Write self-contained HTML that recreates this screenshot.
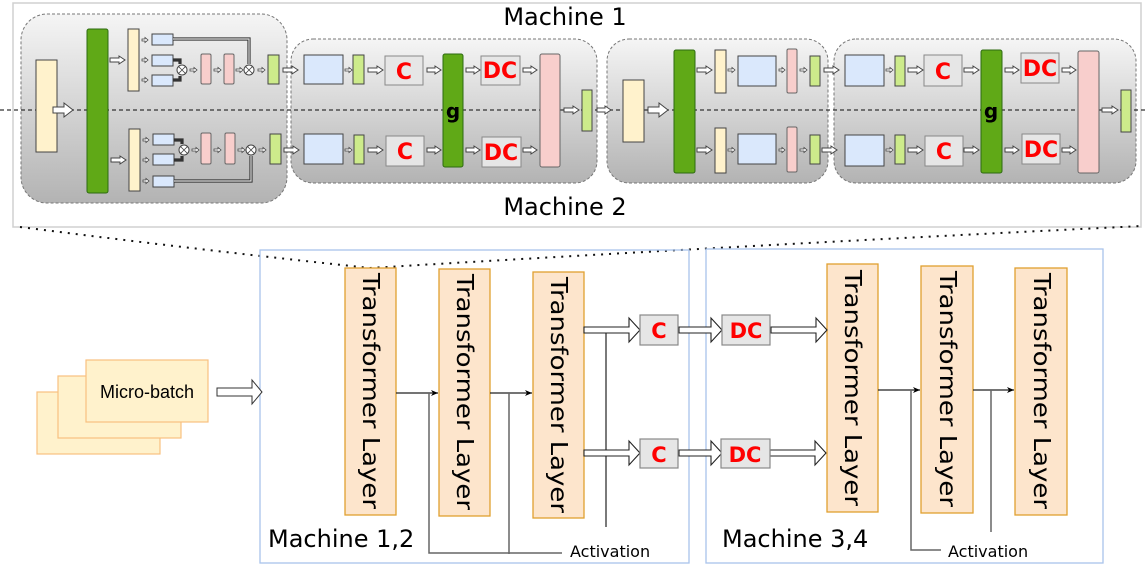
<!DOCTYPE html>
<html><head><meta charset="utf-8"><style>
html,body{margin:0;padding:0;background:#fff;}
svg{display:block;font-family:"DejaVu Sans","Liberation Sans",sans-serif;}
</style></head><body>
<svg width="1145" height="565" viewBox="0 0 1145 565" xmlns="http://www.w3.org/2000/svg">
<defs>
<linearGradient id="g" x1="0" y1="0" x2="0" y2="1"><stop offset="0" stop-color="#f5f5f5"/><stop offset="1" stop-color="#b3b3b3"/></linearGradient>
<marker id="ah" markerWidth="8" markerHeight="8" refX="7" refY="4" orient="auto" markerUnits="userSpaceOnUse"><path d="M0,1 L7,4 L0,7 L2,4 Z" fill="#000"/></marker>
</defs>
<rect x="13" y="3" width="1128" height="224" fill="#fff" stroke="#d0d0d0" stroke-width="1.5"/>
<text x="565" y="25" font-size="24" text-anchor="middle" fill="#000">Machine 1</text>
<text x="565" y="215" font-size="24" text-anchor="middle" fill="#000">Machine 2</text>

<g stroke="#777" stroke-dasharray="3 2" fill="url(#g)">
<rect x="21" y="14" width="266" height="189" rx="26"/>
<rect x="291" y="39" width="306" height="144" rx="22"/>
<rect x="607" y="39" width="221" height="144" rx="22"/>
<rect x="834" y="39" width="302" height="144" rx="22"/>
</g>
<line x1="0" y1="110" x2="1145" y2="110" stroke="#333" stroke-dasharray="4 3" stroke-width="1.2"/>

<g stroke="#444" stroke-width="1">
<rect x="36" y="60" width="21" height="92" fill="#fff2cc"/>
<rect x="87" y="29" width="21" height="164" rx="2" fill="#60a917" stroke="#2d6a10"/>
<rect x="128" y="29" width="11" height="62" fill="#fff2cc"/>
<rect x="129" y="129" width="11" height="62" fill="#fff2cc"/>
<g fill="#dae8fc">
<rect x="152" y="34" width="21" height="11"/><rect x="152" y="55" width="21" height="11"/><rect x="152" y="75" width="21" height="11"/>
<rect x="153" y="134" width="21" height="11"/><rect x="153" y="154" width="21" height="11"/><rect x="153" y="176" width="21" height="11"/>
</g>
<g fill="#f8cecc" stroke="#666">
<rect x="201" y="54" width="10" height="30" rx="1.5"/><rect x="224" y="54" width="10" height="30" rx="1.5"/>
<rect x="201" y="133" width="10" height="31" rx="1.5"/><rect x="225" y="133" width="10" height="31" rx="1.5"/>
</g>
<g fill="#cdeb8b">
<rect x="268" y="55" width="11" height="29"/><rect x="270" y="134" width="11" height="30"/>
</g>
<g fill="#fff">
<circle cx="182" cy="70" r="5"/><circle cx="249" cy="70" r="5"/>
<circle cx="184" cy="150" r="5"/><circle cx="251" cy="150" r="5"/>
</g>
<g stroke-width="0.8">
<path d="M178.5,66.5 L185.5,73.5 M185.5,66.5 L178.5,73.5 M245.5,66.5 L252.5,73.5 M252.5,66.5 L245.5,73.5 M180.5,146.5 L187.5,153.5 M187.5,146.5 L180.5,153.5 M247.5,146.5 L254.5,153.5 M254.5,146.5 L247.5,153.5"/>
</g>
<g fill="none" stroke="#333" stroke-width="3.2"><path d="M173,39 H249 V64"/><path d="M174,181 H251 V156"/><path d="M173,60 H180 V64"/><path d="M173,80 H180 V76"/><path d="M174,140 H182 V144"/><path d="M174,160 H182 V156"/></g>
<g fill="none" stroke="#ddd" stroke-width="1.2"><path d="M173,39 H249 V64"/><path d="M174,181 H251 V156"/></g>

<g fill="#dae8fc"><rect x="304" y="55" width="39" height="29"/><rect x="304" y="134" width="39" height="30"/>
<rect x="738" y="56" width="38" height="30"/><rect x="738" y="134" width="38" height="30"/>
<rect x="845" y="55" width="39" height="31"/><rect x="845" y="135" width="39" height="31"/></g>
<g fill="#cdeb8b"><rect x="353" y="55" width="11" height="29"/><rect x="354" y="135" width="10" height="29"/>
<rect x="582" y="90" width="10" height="41"/><rect x="810" y="56" width="10" height="30"/><rect x="810" y="135" width="10" height="29"/>
<rect x="895" y="56" width="10" height="30"/><rect x="895" y="135" width="10" height="29"/><rect x="1121" y="90" width="10" height="42"/></g>
<g fill="#e6e6e6" stroke="#888"><rect x="385" y="56" width="38" height="29"/><rect x="386" y="136" width="38" height="30"/>
<rect x="481" y="56" width="39" height="29"/><rect x="482" y="137" width="39" height="30"/>
<rect x="924" y="55" width="38" height="31"/><rect x="925" y="136" width="38" height="30"/>
<rect x="1021" y="53" width="38" height="30"/><rect x="1022" y="134" width="38" height="30"/></g>
<g fill="#60a917" stroke="#2d6a10"><rect x="443" y="54" width="20" height="113" rx="2"/><rect x="674" y="50" width="21" height="123" rx="2"/><rect x="981" y="50" width="21" height="123" rx="2"/></g>
<g fill="#f8cecc" stroke="#666"><rect x="540" y="54" width="20" height="113" rx="2"/><rect x="787" y="49" width="10" height="44" rx="1.5"/><rect x="787" y="127" width="10" height="45" rx="1.5"/><rect x="1078" y="51" width="21" height="122" rx="2"/></g>
<g fill="#fff2cc"><rect x="623" y="80" width="21" height="62"/><rect x="715" y="50" width="11" height="43"/><rect x="715" y="128" width="11" height="45"/></g>

<g fill="#fff" stroke="#444" stroke-width="1">
<polygon points="53,107 64,107 64,103 73,110 64,117 64,113 53,113"/>
<polygon points="648,107 659,107 659,103 668,110 659,117 659,113 648,113"/>
<polygon points="110,58 119,58 119,56 125,60 119,64 119,62 110,62"/>
<polygon points="111,158 120,158 120,156 126,160 120,164 120,162 111,162"/>
<polygon points="283,68 292,68 292,66 298,70 292,74 292,72 283,72"/>
<polygon points="284,148 293,148 293,146 299,150 293,154 293,152 284,152"/>
<polygon points="368,68 377,68 377,66 383,70 377,74 377,72 368,72"/>
<polygon points="368,148 377,148 377,146 383,150 377,154 377,152 368,152"/>
<polygon points="427,68 435,68 435,66 441,70 435,74 435,72 427,72"/>
<polygon points="427,148 435,148 435,146 441,150 435,154 435,152 427,152"/>
<polygon points="466,68 474,68 474,66 480,70 474,74 474,72 466,72"/>
<polygon points="466,148 474,148 474,146 480,150 474,154 474,152 466,152"/>
<polygon points="523,68 531,68 531,66 537,70 531,74 531,72 523,72"/>
<polygon points="523,148 531,148 531,146 537,150 531,154 531,152 523,152"/>
<polygon points="564,108 573,108 573,106 579,110 573,114 573,112 564,112"/>
<polygon points="597,108 605,108 605,106 611,110 605,114 605,112 597,112"/>
<polygon points="697,68 706,68 706,66 712,70 706,74 706,72 697,72"/>
<polygon points="697,148 706,148 706,146 712,150 706,154 706,152 697,152"/>
<polygon points="824,68 833,68 833,66 839,70 833,74 833,72 824,72"/>
<polygon points="822,148 831,148 831,146 837,150 831,154 831,152 822,152"/>
<polygon points="908,68 917,68 917,66 923,70 917,74 917,72 908,72"/>
<polygon points="908,148 917,148 917,146 923,150 917,154 917,152 908,152"/>
<polygon points="964,68 973,68 973,66 979,70 973,74 973,72 964,72"/>
<polygon points="964,148 973,148 973,146 979,150 973,154 973,152 964,152"/>
<polygon points="1005,68 1013,68 1013,66 1019,70 1013,74 1013,72 1005,72"/>
<polygon points="1005,148 1013,148 1013,146 1019,150 1013,154 1013,152 1005,152"/>
<polygon points="1062,68 1070,68 1070,66 1076,70 1070,74 1070,72 1062,72"/>
<polygon points="1062,148 1070,148 1070,146 1076,150 1070,154 1070,152 1062,152"/>
<polygon points="1102,108 1112,108 1112,106 1118,110 1112,114 1112,112 1102,112"/>
</g>
<g fill="#fff" stroke="#444" stroke-width="0.8">
<polygon points="142,39 145,39 145,37.5 148,40 145,42.5 145,41 142,41"/>
<polygon points="142,59 145,59 145,57.5 148,60 145,62.5 145,61 142,61"/>
<polygon points="142,79 145,79 145,77.5 148,80 145,82.5 145,81 142,81"/>
<polygon points="143,139 146,139 146,137.5 149,140 146,142.5 146,141 143,141"/>
<polygon points="143,159 146,159 146,157.5 149,160 146,162.5 146,161 143,161"/>
<polygon points="143,180 146,180 146,178.5 149,181 146,183.5 146,182 143,182"/>
<polygon points="190,69 194,69 194,67.5 197,70 194,72.5 194,71 190,71"/>
<polygon points="214,69 218,69 218,67.5 221,70 218,72.5 218,71 214,71"/>
<polygon points="236,69 240,69 240,67.5 243,70 240,72.5 240,71 236,71"/>
<polygon points="258,69 262,69 262,67.5 265,70 262,72.5 262,71 258,71"/>
<polygon points="192,149 196,149 196,147.5 199,150 196,152.5 196,151 192,151"/>
<polygon points="214,149 218,149 218,147.5 221,150 218,152.5 218,151 214,151"/>
<polygon points="238,149 242,149 242,147.5 245,150 242,152.5 242,151 238,151"/>
<polygon points="259,149 263,149 263,147.5 266,150 263,152.5 263,151 259,151"/>
<polygon points="345,69 349,69 349,67.5 352,70 349,72.5 349,71 345,71"/>
<polygon points="345,149 349,149 349,147.5 352,150 349,152.5 349,151 345,151"/>
<polygon points="728,69 732,69 732,67.5 735,70 732,72.5 732,71 728,71"/>
<polygon points="728,149 732,149 732,147.5 735,150 732,152.5 732,151 728,151"/>
<polygon points="779,69 782,69 782,67.5 785,70 782,72.5 782,71 779,71"/>
<polygon points="779,149 782,149 782,147.5 785,150 782,152.5 782,151 779,151"/>
<polygon points="800,69 804,69 804,67.5 807,70 804,72.5 804,71 800,71"/>
<polygon points="800,149 804,149 804,147.5 807,150 804,152.5 804,151 800,151"/>
<polygon points="886,69 890,69 890,67.5 893,70 890,72.5 890,71 886,71"/>
<polygon points="886,149 890,149 890,147.5 893,150 890,152.5 890,151 886,151"/>
</g>
</g>
<g fill="#f00" font-weight="bold" font-size="22" text-anchor="middle">
<text x="404" y="79">C</text><text x="405" y="159">C</text>
<text x="500" y="78">DC</text><text x="501" y="160">DC</text>
<text x="943" y="79">C</text><text x="944" y="159">C</text>
<text x="1040" y="76">DC</text><text x="1041" y="157">DC</text>
</g>
<g font-weight="bold" font-size="20" text-anchor="middle" fill="#000">
<text x="453" y="118">g</text><text x="991" y="118">g</text>
</g>

<path d="M20,227 Q200,250 370,268 Q750,245 1142,226" fill="none" stroke="#111" stroke-width="2" stroke-dasharray="2 6"/>

<rect x="260" y="250" width="429" height="313" fill="none" stroke="#a9c4eb" stroke-width="1.3"/>
<rect x="706" y="249" width="397" height="314" fill="none" stroke="#a9c4eb" stroke-width="1.3"/>

<g fill="#fff2cc" stroke="#f8c080" stroke-width="1.2">
<rect x="37" y="392" width="123" height="62"/>
<rect x="58" y="376" width="123" height="62"/>
<rect x="86" y="360" width="122" height="62"/>
</g>
<text x="147" y="398" font-size="18" text-anchor="middle" fill="#000" font-family="Liberation Sans, sans-serif">Micro-batch</text>
<polygon points="217,388 252,388 252,380 262,392 252,404 252,396 217,396" fill="#fff" stroke="#333"/>

<g fill="#fde5cc" stroke="#e0a030" stroke-width="1.3">
<rect x="345" y="268" width="51" height="247"/>
<rect x="439" y="269" width="51" height="247"/>
<rect x="533" y="272" width="51" height="246"/>
<rect x="827" y="264" width="51" height="248"/>
<rect x="921" y="266" width="52" height="247"/>
<rect x="1015" y="268" width="52" height="247"/>
</g>
<g font-size="23" fill="#000" text-anchor="middle" dominant-baseline="central">
<text x="370" y="391" transform="rotate(90 370 391)" textLength="236" lengthAdjust="spacingAndGlyphs">Transformer Layer</text>
<text x="464" y="392" transform="rotate(90 464 392)" textLength="236" lengthAdjust="spacingAndGlyphs">Transformer Layer</text>
<text x="558" y="395" transform="rotate(90 558 395)" textLength="236" lengthAdjust="spacingAndGlyphs">Transformer Layer</text>
<text x="852" y="388" transform="rotate(90 852 388)" textLength="236" lengthAdjust="spacingAndGlyphs">Transformer Layer</text>
<text x="947" y="389" transform="rotate(90 947 389)" textLength="236" lengthAdjust="spacingAndGlyphs">Transformer Layer</text>
<text x="1041" y="391" transform="rotate(90 1041 391)" textLength="236" lengthAdjust="spacingAndGlyphs">Transformer Layer</text>
</g>

<g stroke="#222" stroke-width="1.2" fill="none">
<line x1="396" y1="393" x2="438" y2="393" marker-end="url(#ah)"/>
<line x1="490" y1="393" x2="532" y2="393" marker-end="url(#ah)"/>
<line x1="878" y1="390" x2="920" y2="390" marker-end="url(#ah)"/>
<line x1="973" y1="390" x2="1014" y2="390" marker-end="url(#ah)"/>
<line x1="606" y1="330" x2="606" y2="527"/>
</g>
<g stroke="#666" stroke-width="1.5" fill="none">
<path d="M429,393 V553 H562"/>
<line x1="509" y1="393" x2="509" y2="554"/>
<path d="M911,390 V550 H941"/>
<line x1="991" y1="390" x2="991" y2="532"/>
</g>
<g font-size="16" fill="#000">
<text x="570" y="557">Activation</text>
<text x="948" y="557">Activation</text>
</g>
<g font-size="24" fill="#000">
<text x="268" y="547">Machine 1,2</text>
<text x="722" y="547">Machine 3,4</text>
</g>

<g fill="#fff" stroke="#222" stroke-width="1.1">
<polygon points="584,327 629,327 629,318 640,330 629,342 629,333 584,333"/>
<polygon points="584,450 629,450 629,441 640,453 629,465 629,456 584,456"/>
<polygon points="679,327 711,327 711,318 722,330 711,342 711,333 679,333"/>
<polygon points="679,450 711,450 711,441 722,453 711,465 711,456 679,456"/>
<polygon points="771,327 816,327 816,318 827,330 816,342 816,333 771,333"/>
<polygon points="770,450 815,450 815,441 826,453 815,465 815,456 770,456"/>
</g>
<g fill="#e6e6e6" stroke="#888" stroke-width="1.2">
<rect x="640" y="315" width="38" height="30"/>
<rect x="640" y="439" width="38" height="29"/>
<rect x="722" y="315" width="48" height="30"/>
<rect x="721" y="439" width="49" height="29"/>
</g>
<g fill="#f00" font-weight="bold" font-size="21" text-anchor="middle">
<text x="659" y="338">C</text><text x="659" y="462">C</text>
<text x="746" y="338">DC</text><text x="745" y="462">DC</text>
</g>
</svg>
</body></html>
